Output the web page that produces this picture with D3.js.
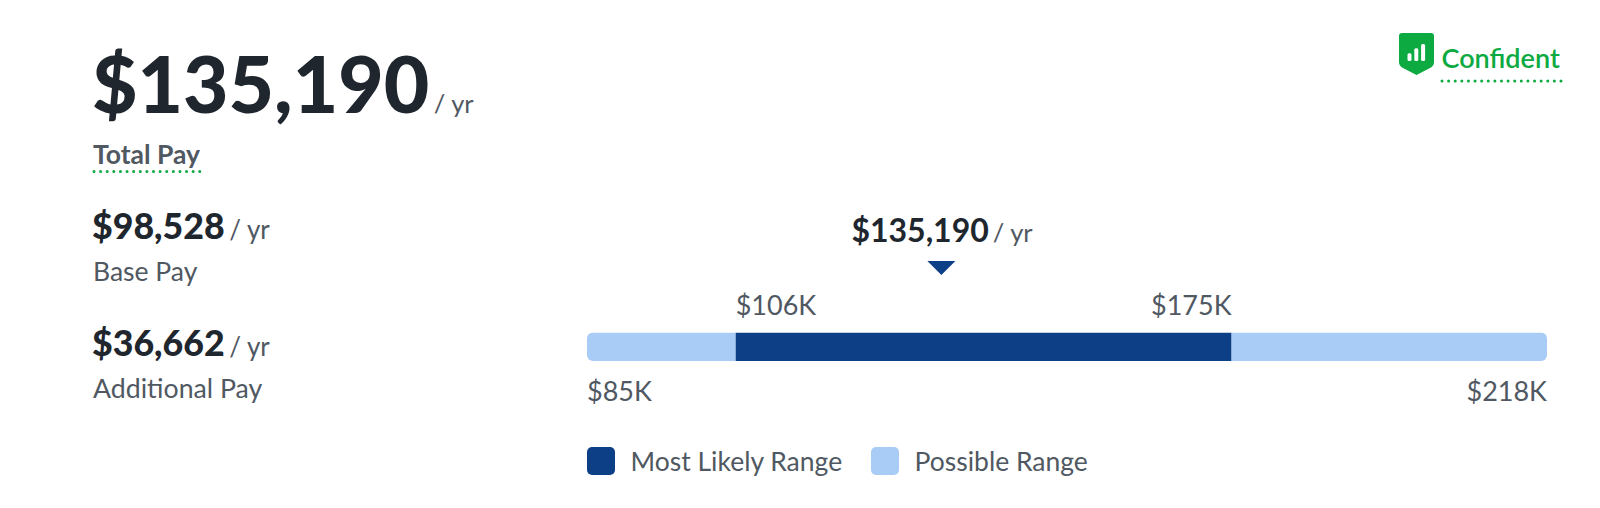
<!DOCTYPE html>
<html>
<head>
<meta charset="utf-8">
<script src="https://cdn.jsdelivr.net/npm/d3@7/dist/d3.min.js"></script>
<style>
  html, body { margin: 0; padding: 0; background: #fff; }
  svg { display: block; }
  text { font-family: Lato, "Open Sans", "Noto Sans", sans-serif; }
</style>
</head>
<body>
<svg id="chart"></svg>
<script>
// values, in $K
const rangeEdges = [85, 105.6, 174.3, 218];
const rangeNames = ["Possible Range", "Most Likely Range", "Possible Range"];
const rangeLabels = ["$85K", "$106K", "$175K", "$218K"];
const markerValue = 134.1;
const payAmounts = ["$135,190", "$98,528", "$36,662"];
const payNames = ["Total Pay", "Base Pay", "Additional Pay"];
const legendNames = ["Most Likely Range", "Possible Range"];
const confidenceLabel = "Confident";
const iconBars = [0.45, 0.75, 1];

const width = 1600;
const height = 508;
const dark = "#20262e";
const grey = "#505862";
const green = "#0caa41";
const navy = "#0c3f86";
const light = "#a9ccf6";
const colors = { "Most Likely Range": navy, "Possible Range": light };

const svg = d3.select("#chart").attr("width", width).attr("height", height);

const x = d3.scaleLinear().domain([rangeEdges[0], rangeEdges[3]]).range([587, 1547]);

function addText(px, py, str, size, fill, weight, anchor) {
  return svg.append("text")
    .attr("x", px)
    .attr("y", py)
    .attr("font-size", size)
    .attr("fill", fill)
    .attr("font-weight", weight || 400)
    .attr("text-anchor", anchor || "start")
    .text(str);
}

// an amount followed by a lighter "/ yr"
function addAmount(px, py, str, size, weight, yrSize, gap) {
  const t = svg.append("text").attr("y", py).attr("x", px);
  t.append("tspan").attr("font-size", size).attr("font-weight", weight).attr("fill", dark).text(str);
  t.append("tspan").attr("dx", gap).attr("font-size", yrSize).attr("fill", grey).text("/ yr");
}

function dottedLine(x1, x2, y) {
  svg.append("line")
    .attr("x1", x1).attr("x2", x2).attr("y1", y).attr("y2", y)
    .attr("stroke", green)
    .attr("stroke-width", 3)
    .attr("stroke-linecap", "round")
    .attr("stroke-dasharray", "0.01 6.6");
}

// left column
addAmount(92, 113, payAmounts[0], 78.5, 900, 25.5, 4.5);
addText(93, 164, payNames[0], 26.5, grey, 700);
dottedLine(94, 201, 171.5);
addAmount(92, 239, payAmounts[1], 35.7, 900, 26, 4.5);
addText(93, 281, payNames[1], 26.5, grey);
addAmount(92, 356, payAmounts[2], 35.7, 900, 26, 4.5);
addText(93, 398, payNames[2], 26.7, grey);

// range bar
const barY = 332.5, barH = 28.5;
svg.append("clipPath").attr("id", "barClip")
  .append("rect")
  .attr("x", x(rangeEdges[0])).attr("y", barY)
  .attr("width", x(rangeEdges[3]) - x(rangeEdges[0])).attr("height", barH)
  .attr("rx", 6);

svg.append("g").attr("clip-path", "url(#barClip)")
  .selectAll("rect")
  .data(rangeNames)
  .join("rect")
  .attr("x", (d, i) => x(rangeEdges[i]))
  .attr("y", barY)
  .attr("width", (d, i) => x(rangeEdges[i + 1]) - x(rangeEdges[i]))
  .attr("height", barH)
  .attr("fill", d => colors[d]);

// range labels
addText(x(rangeEdges[0]), 401, rangeLabels[0], 27, grey);
addText(x(rangeEdges[1]), 315, rangeLabels[1], 27, grey);
addText(x(rangeEdges[2]), 315, rangeLabels[2], 27, grey, 400, "end");
addText(x(rangeEdges[3]), 401, rangeLabels[3], 27, grey, 400, "end");

// marker
const mx = x(markerValue);
svg.append("path")
  .attr("d", d3.line()([[mx - 14, 261], [mx + 14, 261], [mx, 275]]) + "Z")
  .attr("fill", navy);
addAmount(mx - 90, 241.5, payAmounts[0], 32, 700, 25.5, 4);

// legend
const legendX = [587, 871];
legendNames.forEach((name, i) => {
  svg.append("rect")
    .attr("x", legendX[i]).attr("y", 447)
    .attr("width", 28).attr("height", 28)
    .attr("rx", 5)
    .attr("fill", colors[name]);
  addText(legendX[i] + 43.5, 471, name, 26.5, grey);
});

// confidence badge
const bx = 1399, by = 33, bw = 35, bh = 42;
svg.append("path")
  .attr("d", `M${bx + 3},${by} H${bx + bw - 3} Q${bx + bw},${by} ${bx + bw},${by + 3} V${by + bh - 13} Q${bx + bw},${by + bh - 9} ${bx + bw - 4},${by + bh - 7} L${bx + bw / 2},${by + bh} L${bx + 4},${by + bh - 7} Q${bx},${by + bh - 9} ${bx},${by + bh - 13} V${by + 3} Q${bx},${by} ${bx + 3},${by} Z`)
  .attr("fill", green);
const iconY = d3.scaleLinear().domain([0, 1]).range([by + 28, by + 11]);
svg.selectAll("rect.icon")
  .data(iconBars)
  .join("rect")
  .attr("class", "icon")
  .attr("x", (d, i) => bx + 8.5 + i * 6.8)
  .attr("y", d => iconY(d))
  .attr("width", 4)
  .attr("height", d => iconY(0) - iconY(d))
  .attr("rx", 1.5)
  .attr("fill", "#fff");
addText(1441.5, 68, confidenceLabel, 27, green, 600);
dottedLine(1442, 1561, 81);
</script>
</body>
</html>
